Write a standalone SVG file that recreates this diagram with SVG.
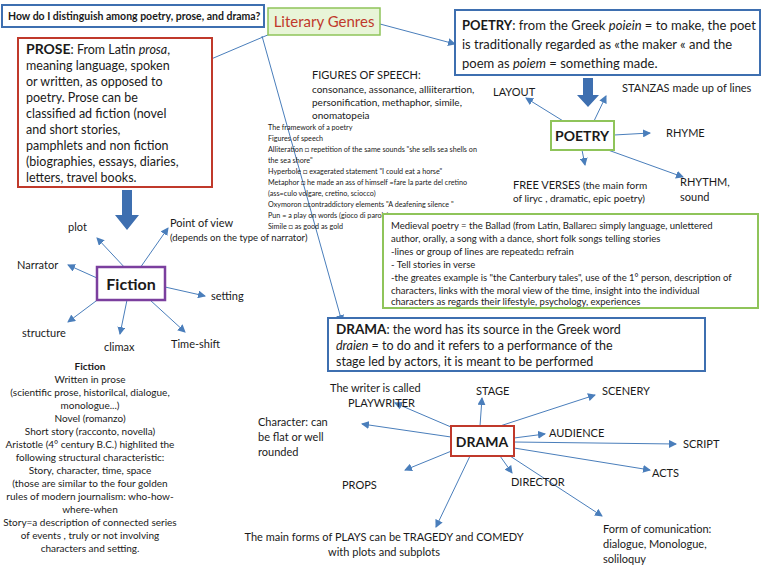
<svg xmlns="http://www.w3.org/2000/svg" width="768" height="576" viewBox="0 0 768 576">
<defs>
<marker id="ah" markerWidth="8" markerHeight="8" refX="7" refY="4" orient="auto" markerUnits="userSpaceOnUse"><path d="M0,0 L8,4 L0,8 Z" fill="#4a7ebb"/></marker>
<style>
text{font-family:Lato,"Liberation Sans",sans-serif;fill:#1a1a1a}
.s{font-size:11px}.xs{font-size:7.2px}.m{font-size:12px}.b{font-weight:bold}
.e{stroke:#4a7ebb;stroke-width:1;fill:none;marker-end:url(#ah)}
</style>
</defs>
<rect width="768" height="576" fill="#fff"/>
<g id="connectors">
<line class="e" x1="270" y1="34" x2="190" y2="68"/>
<line class="e" x1="380" y1="24" x2="455" y2="44"/>
<line class="e" x1="262" y1="36" x2="342" y2="322"/>
<line class="e" x1="568" y1="124" x2="526" y2="98"/>
<line class="e" x1="594" y1="121" x2="606" y2="96"/>
<line class="e" x1="614" y1="135" x2="650" y2="133"/>
<line class="e" x1="608" y1="150" x2="683" y2="177"/>
<line class="e" x1="582" y1="150" x2="585" y2="165"/>
<line class="e" x1="127" y1="270" x2="97" y2="238"/>
<line class="e" x1="140" y1="268" x2="168" y2="228"/>
<line class="e" x1="97" y1="278" x2="68" y2="265"/>
<line class="e" x1="165" y1="287" x2="205" y2="296"/>
<line class="e" x1="100" y1="298" x2="68" y2="322"/>
<line class="e" x1="127" y1="300" x2="120" y2="334"/>
<line class="e" x1="150" y1="300" x2="185" y2="332"/>
<line class="e" x1="458" y1="430" x2="395" y2="403"/>
<line class="e" x1="480" y1="426" x2="482" y2="398"/>
<line class="e" x1="500" y1="426" x2="595" y2="395"/>
<line class="e" x1="514" y1="438" x2="545" y2="434"/>
<line class="e" x1="514" y1="442" x2="676" y2="444"/>
<line class="e" x1="514" y1="448" x2="650" y2="470"/>
<line class="e" x1="500" y1="456" x2="512" y2="473"/>
<line class="e" x1="510" y1="456" x2="602" y2="516"/>
<line class="e" x1="454" y1="450" x2="405" y2="470"/>
<line class="e" x1="451" y1="437" x2="362" y2="424"/>
<line class="e" x1="470" y1="456" x2="436" y2="527"/>
<path d="M122,190 h10 v25 h7 l-12,15 l-12,-15 h7 Z" fill="#3e6fb0"/>
<path d="M583,78 h10 v17 h6 l-11,12 l-11,-12 h6 Z" fill="#3e6fb0"/>
</g>
<g id="title"><rect x="2" y="5" width="262" height="22" fill="#fff" stroke="#3e6fb0" stroke-width="2"/><text x="8" y="20" class="b" style="font-size:10.5px">How do I distinguish among poetry, prose, and drama?</text></g>
<g id="genres"><rect x="268" y="8" width="112" height="27" fill="#e8f5d8" stroke="#8fc45a" stroke-width="1.5"/><text x="324" y="27" text-anchor="middle" style="font-size:15px;fill:#c0392b">Literary Genres</text></g>
<g id="poetry-box"><rect x="455" y="10" width="305" height="65" fill="#fff" stroke="#3e6fb0" stroke-width="2"/>
<text x="462" y="30" style="font-size:13px"><tspan class="b">POETRY</tspan>: from the Greek <tspan font-style="italic">poiein</tspan> = to make, the poet</text>
<text x="462" y="49" style="font-size:13px">is traditionally regarded as «the maker « and the</text>
<text x="462" y="68" style="font-size:13px">poem as <tspan font-style="italic">poiem</tspan> = something made.</text></g>
<g id="prose-box"><rect x="18" y="38" width="194" height="149" fill="#fff" stroke="#c0392b" stroke-width="2"/>
<text style="font-size:12.5px"><tspan x="26" y="54"><tspan class="b" style="font-size:14px">PROSE</tspan>: From Latin <tspan font-style="italic">prosa</tspan>,</tspan><tspan x="26" y="70">meaning language, spoken</tspan><tspan x="26" y="86">or written, as opposed to</tspan><tspan x="26" y="102">poetry. Prose can be</tspan><tspan x="26" y="118">classified ad fiction (novel</tspan><tspan x="26" y="134">and short stories,</tspan><tspan x="26" y="150">pamphlets  and non fiction</tspan><tspan x="26" y="166">(biographies, essays, diaries,</tspan><tspan x="26" y="182">letters, travel books.</tspan></text></g>
<g id="figures"><text style="font-size:10px"><tspan x="312" y="79" style="font-size:11px">FIGURES OF SPEECH:</tspan><tspan x="312" y="93">consonance, assonance, alliiterartion,</tspan><tspan x="312" y="106">personification, methaphor, simile,</tspan><tspan x="312" y="119">onomatopeia</tspan></text>
<text class="xs"><tspan x="268" y="130">The framework of a poetry</tspan><tspan x="268" y="141">Figures of speech</tspan><tspan x="268" y="152">Alliteration □ repetition of the same sounds  "she sells sea shells on</tspan><tspan x="268" y="163">the sea shore"</tspan><tspan x="268" y="174">Hyperbole □ exagerated statement "I could eat a horse"</tspan><tspan x="268" y="185">Metaphor □ he made an ass of himself =fare la parte del cretino</tspan><tspan x="268" y="196">(ass=culo volgare, cretino, sciocco)</tspan><tspan x="268" y="207">Oxymoron □contraddictory elements "A deafening silence "</tspan><tspan x="268" y="218">Pun = a play on words  (gioco di parole)</tspan><tspan x="268" y="229">Simile □ as  good as gold</tspan></text></g>
<g id="poetry-node"><rect x="551" y="121" width="63" height="29" fill="#fff" stroke="#8fc45a" stroke-width="2"/><text x="582" y="141" text-anchor="middle" class="b" style="font-size:14px">POETRY</text></g>
<g id="poetry-leaves">
<text x="493" y="96" class="s">LAYOUT</text>
<text x="622" y="92" class="s">STANZAS made up of lines</text>
<text x="666" y="137" class="s">RHYME</text>
<text x="680" y="186" class="s">RHYTHM,</text><text x="680" y="201" class="s">sound</text>
<text x="513" y="189" class="s">FREE VERSES <tspan style="font-size:10px">(the main form</tspan></text>
<text x="513" y="202" style="font-size:10px">of liryc , dramatic, epic poetry)</text></g>
<g id="ballad"><rect x="383" y="214" width="375" height="94" fill="#fff" stroke="#8fc45a" stroke-width="2"/>
<text style="font-size:9.5px"><tspan x="391" y="229">Medieval poetry = the Ballad  (from Latin, Ballare□ simply language, unlettered</tspan><tspan x="391" y="242">author, orally,  a song with a dance, short folk songs telling stories</tspan><tspan x="391" y="255">-lines or group of lines are repeated□ refrain</tspan><tspan x="391" y="268">- Tell stories in verse</tspan><tspan x="391" y="281">-the greates example is "the Canterbury tales", use of the 1° person, description of</tspan><tspan x="391" y="294">characters,  links with the  moral view of the time, insight into the individual</tspan><tspan x="391" y="305">characters as regards their lifestyle, psychology, experiences</tspan></text></g>
<g id="fiction-node"><rect x="97" y="267" width="68" height="33" fill="#fff" stroke="#7b3f9e" stroke-width="2.5"/><text x="131" y="290" text-anchor="middle" class="b" style="font-size:16px">Fiction</text></g>
<g id="fiction-leaves">
<text x="68" y="231" class="s">plot</text>
<text x="170" y="227" class="s">Point of view</text><text x="170" y="241" style="font-size:9.5px">(depends on the type of narrator)</text>
<text x="17" y="269" class="s">Narrator</text>
<text x="211" y="300" class="s">setting</text>
<text x="22" y="337" class="s">structure</text>
<text x="104" y="351" class="s">climax</text>
<text x="171" y="348" class="s">Time-shift</text></g>
<g id="fiction-text"><text text-anchor="middle" style="font-size:10px"><tspan x="90" y="370" class="b">Fiction</tspan><tspan x="90" y="383">Written in prose</tspan><tspan x="90" y="396">(scientific prose, historilcal, dialogue,</tspan><tspan x="90" y="409">monologue...)</tspan><tspan x="90" y="422">Novel  (romanzo)</tspan><tspan x="90" y="435">Short story (racconto, novella)</tspan><tspan x="90" y="448">Aristotle (4° century B.C.) highlited the</tspan><tspan x="90" y="461">following structural characteristic:</tspan><tspan x="90" y="474">Story, character, time, space</tspan><tspan x="90" y="487">(those are similar to the four golden</tspan><tspan x="90" y="500">rules of modern journalism: who-how-</tspan><tspan x="90" y="513">where-when</tspan><tspan x="90" y="526">Story=a description of connected series</tspan><tspan x="90" y="539">of events , truly or not  involving</tspan><tspan x="90" y="552">characters and setting.</tspan></text></g>
<g id="drama-box"><rect x="328" y="318" width="377" height="53" fill="#fff" stroke="#3e6fb0" stroke-width="2"/>
<text style="font-size:12.5px"><tspan x="336" y="334"><tspan class="b" style="font-size:13.5px">DRAMA</tspan>: the word has its source in the Greek word</tspan><tspan x="336" y="350"><tspan font-style="italic">draien</tspan> = to do and it refers to a performance of the</tspan><tspan x="336" y="366">stage led by actors, it is meant to be performed</tspan></text></g>
<g id="drama-node"><rect x="451" y="426" width="63" height="30" fill="#fff" stroke="#c0392b" stroke-width="2"/><text x="482" y="447" text-anchor="middle" class="b" style="font-size:14px">DRAMA</text></g>
<g id="drama-leaves">
<text x="330" y="392" class="s">The writer is called</text><text x="348" y="407" class="s">PLAYWRITER</text>
<text x="476" y="395" class="s">STAGE</text>
<text x="602" y="395" class="s">SCENERY</text>
<text x="549" y="437" class="s">AUDIENCE</text>
<text x="683" y="448" class="s">SCRIPT</text>
<text x="652" y="477" class="s">ACTS</text>
<text x="511" y="486" class="s">DIRECTOR</text>
<text x="603" y="533" class="s">Form of comunication:</text><text x="603" y="548" class="s">dialogue,  Monologue,</text><text x="603" y="563" class="s">soliloquy</text>
<text x="342" y="489" class="s">PROPS</text>
<text x="258" y="426" class="s">Character: can</text><text x="258" y="441" class="s">be flat or well</text><text x="258" y="456" class="s">rounded</text>
<text x="384" y="541" text-anchor="middle" class="s">The main forms of PLAYS can be TRAGEDY and COMEDY</text><text x="384" y="556" text-anchor="middle" class="s">with plots and subplots</text></g>
</svg>
